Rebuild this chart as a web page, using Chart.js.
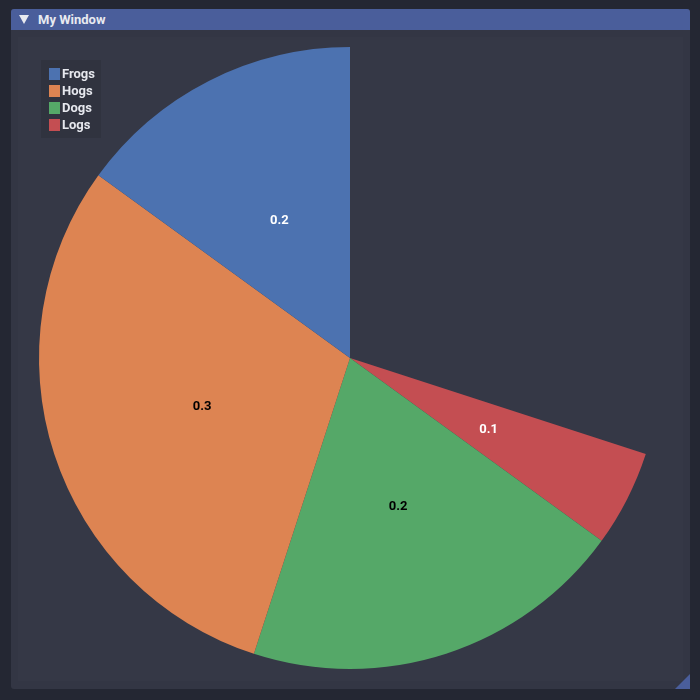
<!DOCTYPE html>
<html>
<head>
<meta charset="utf-8">
<script src="https://cdn.jsdelivr.net/npm/chart.js@4"></script>
<style>
  html, body { margin: 0; padding: 0; background: #242733; }
  #wrap { position: relative; width: 700px; height: 700px; overflow: hidden; }
  #win { position: absolute; left: 11px; top: 9px; width: 679px; height: 680px; background: #333644; border-radius: 3px; }
  #title { position: absolute; left: 0; top: 0; width: 100%; height: 21px; background: #4a5e9b; border-radius: 3px 3px 0 0;
           color: #e8eaf0; font: bold 13px Roboto, "DejaVu Sans", sans-serif; line-height: 21px; }
  #title span.arrow { position: absolute; left: 8px; top: 6px; width: 0; height: 0;
           border-left: 5px solid transparent; border-right: 5px solid transparent; border-top: 9px solid #e8eaf0; }
  #title span.txt { position: absolute; left: 27px; top: 0; }
  #frame { position: absolute; left: 7px; top: 28px; width: 665px; height: 644px; background: #353846; }
  #grip { position: absolute; right: 0; bottom: 0; width: 0; height: 0;
          border-left: 15px solid transparent; border-bottom: 15px solid #4a5e9b; }
  canvas { position: absolute; left: 0; top: 0; }
</style>
</head>
<body>
<div id="wrap">
  <div id="win">
    <div id="title"><span class="arrow"></span><span class="txt">My Window</span></div>
    <div id="frame"></div>
    <div id="grip"></div>
  </div>
  <canvas id="pie" width="700" height="700"></canvas>
</div>
<script>
const labels = ['Frogs', 'Hogs', 'Dogs', 'Logs'];
const values = [0.15, 0.30, 0.2, 0.05];
const colors = ['#4c72b0', '#dd8452', '#55a868', '#c44e52'];

// ImPlot draws counter-clockwise from 90 deg and leaves the rest empty (sum < 1)
const gap = 1 - values.reduce((a, b) => a + b, 0);
const pieData = [gap].concat(values.slice().reverse());
const pieColors = ['rgba(0,0,0,0)'].concat(colors.slice().reverse());

function textColor(hex) {
  const r = parseInt(hex.slice(1, 3), 16), g = parseInt(hex.slice(3, 5), 16), b = parseInt(hex.slice(5, 7), 16);
  return (0.299 * r + 0.587 * g + 0.114 * b) > 128 ? '#000000' : '#ffffff';
}

const sliceLabels = {
  id: 'sliceLabels',
  afterDatasetsDraw(chart) {
    const ctx = chart.ctx;
    const arcs = chart.getDatasetMeta(0).data;
    ctx.save();
    ctx.font = 'bold 13px Roboto, "DejaVu Sans", sans-serif';
    ctx.textAlign = 'center';
    ctx.textBaseline = 'middle';
    arcs.forEach((arc, i) => {
      if (i === 0) return;
      const p = arc.getCenterPoint();
      // values were floats in the original, so 0.15 prints as 0.2
      const txt = Math.fround(pieData[i]).toFixed(1);
      ctx.fillStyle = textColor(pieColors[i]);
      ctx.fillText(txt, p.x, p.y + 1);
    });
    ctx.restore();
  }
};

const boxLegend = {
  id: 'boxLegend',
  afterDraw(chart) {
    const ctx = chart.ctx;
    ctx.save();
    ctx.fillStyle = '#30333f';
    ctx.fillRect(41, 60, 60, 78);
    ctx.font = 'bold 13px Roboto, "DejaVu Sans", sans-serif';
    ctx.textBaseline = 'middle';
    labels.forEach((name, i) => {
      const y = 74 + i * 17;
      ctx.fillStyle = colors[i];
      ctx.fillRect(49, y - 6, 11, 12);
      ctx.fillStyle = '#e6e8ee';
      ctx.fillText(name, 62, y + 1);
    });
    ctx.restore();
  }
};

const pie = new Chart(document.getElementById('pie'), {
  type: 'pie',
  data: {
    labels: [''].concat(labels.slice().reverse()),
    datasets: [{
      data: pieData,
      backgroundColor: pieColors,
      borderWidth: 0
    }]
  },
  options: {
    responsive: false,
    animation: false,
    events: [],
    layout: { padding: { left: 39, top: 47, right: 39, bottom: 31 } },
    plugins: {
      legend: { display: false },
      tooltip: { enabled: false }
    }
  },
  plugins: [sliceLabels, boxLegend]
});
</script>
</body>
</html>
